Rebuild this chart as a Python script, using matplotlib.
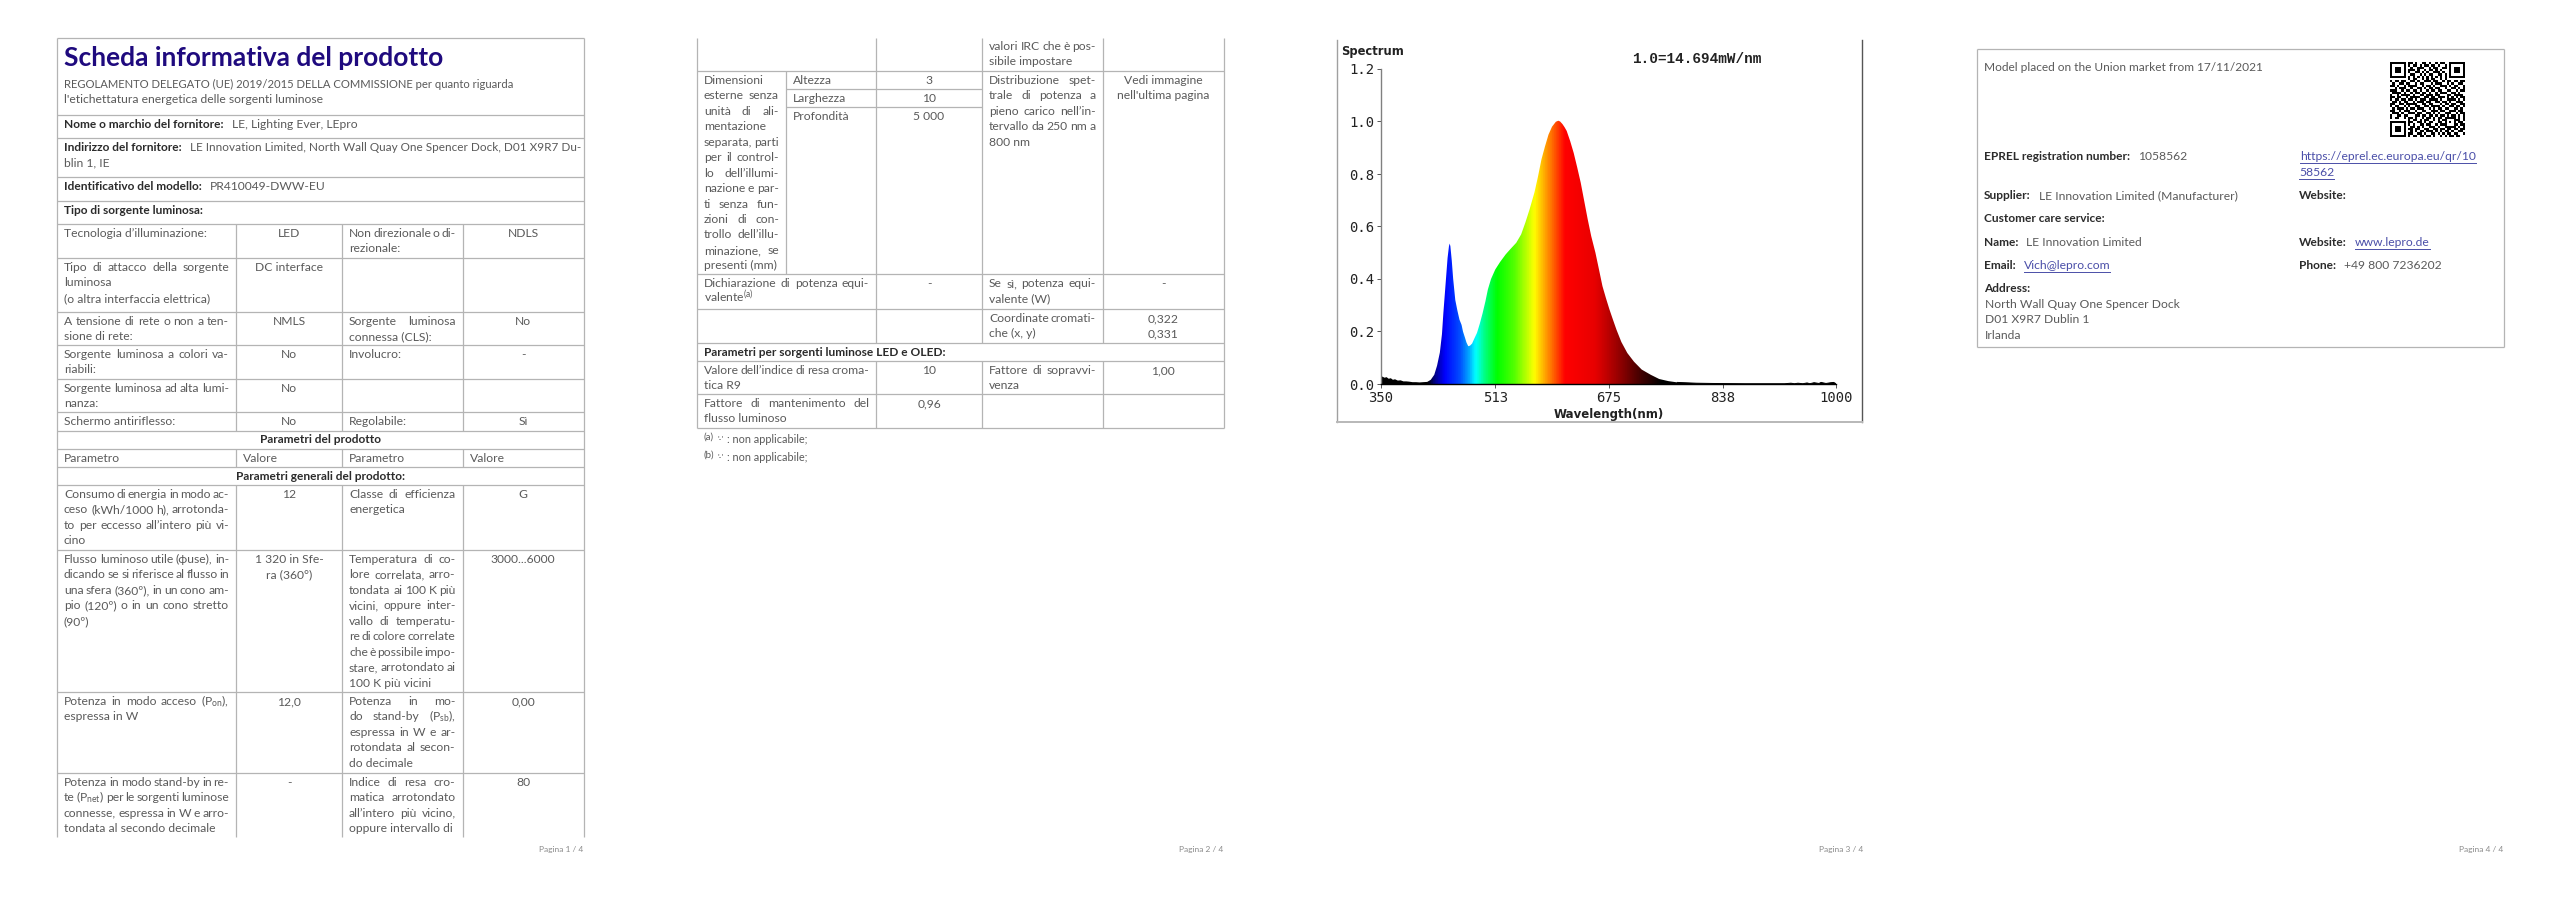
import numpy as np
import matplotlib
matplotlib.use("Agg")
import matplotlib.pyplot as plt
from matplotlib.colors import LinearSegmentedColormap

plt.rcParams['font.family'] = ['Lato', 'DejaVu Sans']
plt.rcParams['mathtext.default'] = 'regular'

# spectrum
wavelength = [350, 352, 355, 358, 361, 364, 367, 370, 374, 378, 382, 386, 390, 395, 400, 405, 410, 416,
              421, 426, 430, 434, 437, 439, 441, 443, 445, 447, 448, 449, 451, 453, 456, 459, 462, 465, 467,
              470, 472, 474.5, 477, 480, 483, 487, 491, 495, 499, 502.5, 507, 513, 520, 528, 535, 543, 550,
              556, 562, 569, 574, 579, 584, 589, 594, 599.5, 603, 605.6, 609, 612, 615, 620, 625, 630, 635,
              640, 645, 650, 656, 661, 666, 671, 676, 681, 686, 693, 701.5, 711, 722, 735, 747, 760, 773,
              800, 824, 870, 926, 935, 940, 945, 952, 958, 962, 968, 975, 978, 985, 992, 996, 1000]
intensity = [0.030, 0.028, 0.024, 0.026, 0.020, 0.022, 0.016, 0.018, 0.013, 0.014, 0.010, 0.010, 0.009, 0.007,
             0.007, 0.006, 0.007, 0.008, 0.016, 0.035, 0.070, 0.120, 0.190, 0.270, 0.340, 0.410, 0.480, 0.525,
             0.535, 0.525, 0.470, 0.400, 0.320, 0.280, 0.245, 0.225, 0.200, 0.175, 0.158, 0.144, 0.146, 0.154,
             0.172, 0.195, 0.230, 0.270, 0.315, 0.360, 0.400, 0.436, 0.465, 0.494, 0.515, 0.538, 0.570, 0.615,
             0.665, 0.730, 0.790, 0.856, 0.905, 0.950, 0.980, 0.999, 1.003, 1.000, 0.990, 0.978, 0.964, 0.925,
             0.880, 0.825, 0.767, 0.697, 0.627, 0.563, 0.500, 0.437, 0.373, 0.327, 0.284, 0.245, 0.207, 0.160,
             0.118, 0.085, 0.055, 0.035, 0.019, 0.011, 0.006, 0.003, 0.002, 0.001, 0.001, 0.003, 0.001, 0.003,
             0.001, 0.004, 0.001, 0.005, 0.002, 0.006, 0.002, 0.005, 0.006, 0.000]
wl_ticks = [350, 513, 675, 838, 1000]
int_ticks = [0.0, 0.2, 0.4, 0.6, 0.8, 1.0, 1.2]

# colour of the light at each wavelength
band_nm = [350, 415, 425, 440, 462, 475, 484, 497, 515, 540, 568, 590, 612, 655, 685, 715, 750, 1000]
band_col = ['#000000', '#000000', '#000080', '#0000ff', '#0050ff', '#00aaff', '#00ffff', '#00ff80', '#00ff00',
            '#55ff00', '#ffff00', '#ff8000', '#ff0000', '#e80000', '#a00000', '#500000', '#000000', '#000000']

qr_rows = [
    "111111101101001101001011001111111", "100000101011010110110100101000001",
    "101110100100111001011001101011101", "101110101110100101101010001011101",
    "101110101001101010011101001011101", "100000100110010101100110101000001",
    "111111101010101010101010101111111", "000000001011001010110010100000000",
    "101101100110100111011001011011011", "010011011001011000101110010100110",
    "110100101111001011010011101011001", "001011100100110101101100100110101",
    "111001011011010010110110011001011", "011110100101101101001011100110100",
    "100101111010011011101100011011110", "110110010111100110110111010101011",
    "101101101101011101111010011110101", "011010110010111011001101101001110",
    "110011011111001101100010110110011", "101100101001100110111101001101101",
    "010111010110111001010110110011010", "110010111001001100111011001110110",
    "011101001110110011010100111001011", "100110110001101101101011010110101",
    "101100101101001011010110111110101", "000000001011010110010101100011101",
    "111111101100110101100110101010110", "100000101010011011001011100011011",
    "101110100110101001110100111110101", "101110101101100110011011011011011",
    "101110100101011011101010110100110", "100000101100110100110101011011001",
    "111111101011011011010010101101100",
]

title = "Scheda informativa del prodotto"
regulation = ["REGOLAMENTO DELEGATO (UE) 2019/2015 DELLA COMMISSIONE per quanto riguarda",
              "l'etichettatura energetica delle sorgenti luminose"]

# 4 columns: label, value, label, value
p1_rows_a = [
    (["Tecnologia d’illuminazione:"], ["LED"], ["Non direzionale o di-", "rezionale:"], ["NDLS"]),
    (["Tipo di attacco della sorgente", "luminosa", "(o altra interfaccia elettrica)"], ["DC interface"], [], []),
    (["A tensione di rete o non a ten-", "sione di rete:"], ["NMLS"], ["Sorgente luminosa", "connessa (CLS):"], ["No"]),
    (["Sorgente luminosa a colori va-", "riabili:"], ["No"], ["Involucro:"], ["-"]),
    (["Sorgente luminosa ad alta lumi-", "nanza:"], ["No"], [], []),
    (["Schermo antiriflesso:"], ["No"], ["Regolabile:"], ["Sì"]),
]
p1_rows_b = [
    (["Consumo di energia in modo ac-", "ceso (kWh/1000 h), arrotonda-", "to per eccesso all’intero più vi-", "cino"],
     ["12"], ["Classe di efficienza", "energetica"], ["G"]),
    (["Flusso luminoso utile (ϕuse), in-", "dicando se si riferisce al flusso in", "una sfera (360º), in un cono am-",
      "pio (120º) o in un cono stretto", "(90º)"],
     ["1 320 in Sfe-", "ra (360°)"],
     ["Temperatura di co-", "lore correlata, arro-", "tondata ai 100 K più", "vicini, oppure inter-", "vallo di temperatu-",
      "re di colore correlate", "che è possibile impo-", "stare, arrotondato ai", "100 K più vicini"],
     ["3000...6000"]),
    (["Potenza in modo acceso (P$_{on}$),", "espressa in W"], ["12,0"],
     ["Potenza in mo-", "do stand-by (P$_{sb}$),", "espressa in W e ar-", "rotondata al secon-", "do decimale"], ["0,00"]),
    (["Potenza in modo stand-by in re-", "te (P$_{net}$) per le sorgenti luminose", "connesse, espressa in W e arro-",
      "tondata al secondo decimale"], ["-"],
     ["Indice di resa cro-", "matica arrotondato", "all’intero più vicino,", "oppure intervallo di"], ["80"]),
]
dim_label = ["Dimensioni", "esterne senza", "unità di ali-", "mentazione", "separata, parti", "per il control-",
             "lo dell’illumi-", "nazione e par-", "ti senza fun-", "zioni di con-", "trollo dell’illu-",
             "minazione, se", "presenti (mm)"]
dim_names = ["Altezza", "Larghezza", "Profondità"]
dim_values = ["3", "10", "5 000"]
spd_label = ["Distribuzione spet-", "trale di potenza a", "pieno carico nell’in-", "tervallo da 250 nm a", "800 nm"]
spd_value = ["Vedi immagine", "nell'ultima pagina"]
irc_tail = ["valori IRC che è pos-", "sibile impostare"]
p2_rows = [
    (["Dichiarazione di potenza equi-", "valente$^{(a)}$"], ["-"], ["Se sì, potenza equi-", "valente (W)"], ["-"]),
    ([], [], ["Coordinate cromati-", "che (x, y)"], ["0,322", "0,331"]),
]
p2_rows_led = [
    (["Valore dell’indice di resa croma-", "tica R9"], ["10"], ["Fattore di sopravvi-", "venza"], ["1,00"]),
    (["Fattore di mantenimento del", "flusso luminoso"], ["0,96"], [], []),
]

LINE = '#b4b4b4'
TEXT = '#5a5a5a'
DARK = '#2b2b2b'
LINK = '#4a4ea8'
FS = 8.75
FS_BOLD = 8.6
LEADING = 15.45

fig = plt.figure(figsize=(25.6, 9.05), dpi=100, facecolor='white')
page = fig.add_axes([0, 0, 1, 1])
page.set_xlim(0, 2560)
page.set_ylim(905, 0)
page.axis('off')
renderer = fig.canvas.get_renderer()


def put(x, y, s, bold=False, color=None, size=None, ha='left'):
    if color is None:
        color = DARK if bold else TEXT
    if size is None:
        size = FS_BOLD if bold else FS
    return page.text(x, y, s, fontsize=size, fontweight='bold' if bold else 'normal',
                     color=color, ha=ha, va='baseline')


def width_of(s, bold=False, size=None):
    t = put(0, 0, s, bold=bold, size=size)
    w = t.get_window_extent(renderer).width
    t.remove()
    return w


def hline(x0, x1, y):
    page.plot([x0, x1], [y, y], color=LINE, lw=0.9, solid_capstyle='butt')


def vline(x, y0, y1):
    page.plot([x, x], [y0, y1], color=LINE, lw=0.9, solid_capstyle='butt')


def cell_lines(x0, x1, top, lines, center=False):
    # word spacing is stretched on full lines, like the justified text in the sheet
    y = top + 13
    for n, line in enumerate(lines):
        if center:
            put((x0 + x1) / 2, y, line, ha='center')
        else:
            room = x1 - x0 - 14
            words = line.split(' ')
            sizes = [width_of(w) for w in words]
            full = width_of(line)
            if n < len(lines) - 1 and len(words) > 1 and full > 0.7 * room:
                gap = (room - sum(sizes)) / (len(words) - 1)
                x = x0 + 7
                for w, size in zip(words, sizes):
                    put(x, y, w)
                    x += size + gap
            else:
                put(x0 + 7, y, line)
        y += LEADING


def table_row(cols, top, bottom, cells, close=True):
    for i, lines in enumerate(cells):
        cell_lines(cols[i], cols[i + 1], top, lines, center=(i % 2 == 1))
    for x in cols[1:-1]:
        vline(x, top, bottom)
    if close:
        hline(cols[0], cols[-1], bottom)


def label_value(x, y, label, value, link=False, size=None):
    put(x, y, label, bold=True)
    vx = x + width_of(label, bold=True) + 8
    if link:
        put(vx, y, value, color=LINK)
        page.plot([vx, vx + width_of(value)], [y + 3, y + 3], color=LINK, lw=0.7)
    else:
        put(vx, y, value, size=size)


# page 1
c1 = [57, 236, 342, 462.5, 583.5]
vline(c1[0], 38, 837)
vline(c1[-1], 38, 837)
hline(c1[0], c1[-1], 38)
put(64, 66, title, bold=True, color='#1f0a7e', size=19)
put(64, 88, regulation[0], size=8.15)
put(64, 88 + LEADING, regulation[1])
hline(c1[0], c1[-1], 115)
label_value(64, 128, "Nome o marchio del fornitore:", "LE, Lighting Ever, LEpro")
hline(c1[0], c1[-1], 138)
label_value(64, 151, "Indirizzo del fornitore:", "LE Innovation Limited, North Wall Quay One Spencer Dock, D01 X9R7 Du-",
            size=8.5)
put(64, 151 + LEADING, "blin 1, IE")
hline(c1[0], c1[-1], 177)
label_value(64, 190, "Identificativo del modello:", "PR410049-DWW-EU")
hline(c1[0], c1[-1], 201)
put(64, 214, "Tipo di sorgente luminosa:", bold=True)
hline(c1[0], c1[-1], 224)

y1a = [224, 258, 312, 345, 379, 412, 431]
for row, top, bottom in zip(p1_rows_a, y1a[:-1], y1a[1:]):
    table_row(c1, top, bottom, row)
put((c1[0] + c1[-1]) / 2, 443, "Parametri del prodotto", bold=True, ha='center')
hline(c1[0], c1[-1], 449)
for x, s in zip(c1[:-1], ["Parametro", "Valore", "Parametro", "Valore"]):
    put(x + 7, 462, s)
for x in c1[1:-1]:
    vline(x, 449, 467)
hline(c1[0], c1[-1], 467)
put((c1[0] + c1[-1]) / 2, 480, "Parametri generali del prodotto:", bold=True, ha='center')
hline(c1[0], c1[-1], 485)
y1b = [485, 550, 692, 773, 837]
for i, (row, top, bottom) in enumerate(zip(p1_rows_b, y1b[:-1], y1b[1:])):
    # the last row runs over to the next page, so no closing rule there
    table_row(c1, top, bottom, row, close=i < 3)

# page 2
c2 = [697, 876, 982, 1102.5, 1223.5]
vline(c2[0], 38, 428)
vline(c2[-1], 38, 428)
for x in c2[1:-1]:
    vline(x, 38, 71)
cell_lines(c2[2], c2[3], 37, irc_tail)
hline(c2[0], c2[-1], 71)
# dimensions block
inner = 786
vline(inner, 71, 274)
for x in c2[1:-1]:
    vline(x, 71, 274)
cell_lines(c2[0], inner, 71, dim_label)
for name, val, top in zip(dim_names, dim_values, [71, 89, 107]):
    cell_lines(inner, c2[1], top, [name])
    cell_lines(c2[1], c2[2], top, [val], center=True)
    if top < 107:
        hline(inner, c2[2], top + 18)
cell_lines(c2[2], c2[3], 71, spd_label)
cell_lines(c2[3], c2[4], 71, spd_value, center=True)
hline(c2[0], c2[-1], 274)
for row, top, bottom in zip(p2_rows, [274, 309], [309, 343]):
    table_row(c2, top, bottom, row)
put(704, 356, "Parametri per sorgenti luminose LED e OLED:", bold=True)
hline(c2[0], c2[-1], 361)
for row, top, bottom in zip(p2_rows_led, [361, 394], [394, 428]):
    table_row(c2, top, bottom, row)
for y, mark in zip([440, 458], ["(a)", "(b)"]):
    put(704, y, mark, size=7)
    put(717, y + 1, "'-'", size=5.5)
    put(727, y + 3, ": non applicabile;", size=7.8)

# page 3, the spectrum
page.plot([1337, 1337], [40, 422], color='#a0a0a0', lw=1.0)
page.plot([1862, 1862], [40, 422], color='#555555', lw=1.0)
page.plot([1337, 1862], [422, 422], color='#b8b8b8', lw=1.4)
put(1341, 55, "Spectrum", color='#222222', size=8.3, bold=True).set_family('DejaVu Sans')
put(1632, 63, "1.0=14.694mW/nm", color='#222222', size=10.4, bold=True).set_family('Liberation Mono')

ax = fig.add_axes([1381 / 2560, 1 - 384 / 905, (1836.5 - 1381) / 2560, (384 - 69) / 905])
wl = np.array(wavelength)
val = np.array(intensity)
stops = [(nm - band_nm[0]) / (band_nm[-1] - band_nm[0]) for nm in band_nm]
cmap = LinearSegmentedColormap.from_list('light', list(zip(stops, band_col)))
area = ax.fill_between(wl, val, color='none', lw=0)
im = ax.imshow(np.linspace(0, 1, 1300)[None, :], extent=[350, 1000, 0, 1.2], cmap=cmap,
               aspect='auto', origin='lower', vmin=0, vmax=1)
im.set_clip_path(area.get_paths()[0], transform=ax.transData)
ax.plot(wl[wl > 760], val[wl > 760], color='black', lw=0.7)
ax.set_xlim(350, 1000)
ax.set_ylim(0, 1.2)
ax.patch.set_alpha(0)
ax.spines['top'].set_visible(False)
ax.spines['right'].set_visible(False)
ax.spines['left'].set_color('#808080')
ax.spines['left'].set_linewidth(1.0)
ax.spines['bottom'].set_linewidth(1.0)
ax.set_xticks(wl_ticks)
ax.set_yticks(int_ticks)
ax.set_yticklabels([f"{v:.1f}" for v in int_ticks])
ax.tick_params(axis='both', length=3, width=0.7, pad=2, labelsize=10, labelcolor='#222222',
               labelfontfamily='DejaVu Sans Mono', color='#555555')
ax.set_xlabel("Wavelength(nm)", fontsize=8.5, fontweight='bold', color='#222222', family='DejaVu Sans', labelpad=2)

# page 4
c4 = [1977, 2503.5]
hline(c4[0], c4[1], 49)
hline(c4[0], c4[1], 347)
vline(c4[0], 49, 347)
vline(c4[1], 49, 347)
put(1984, 71, "Model placed on the Union market from 17/11/2021", size=8.6)
qr = np.array([[int(ch) for ch in row] for row in qr_rows])
page.imshow(qr, extent=[2390, 2465, 137, 62], cmap='gray_r', interpolation='nearest', aspect='auto', vmin=0, vmax=1)
page.set_xlim(0, 2560)
page.set_ylim(905, 0)
label_value(1984, 160, "EPREL registration number:", "1058562")
put(2300, 160, "https://eprel.ec.europa.eu/qr/10", color=LINK)
page.plot([2300, 2300 + width_of("https://eprel.ec.europa.eu/qr/10")], [163, 163], color=LINK, lw=0.7)
put(2299, 176, "58562", color=LINK)
page.plot([2299, 2299 + width_of("58562")], [179, 179], color=LINK, lw=0.7)
label_value(1984, 199, "Supplier:", "LE Innovation Limited (Manufacturer)")
put(2299, 199, "Website:", bold=True)
put(1984, 222, "Customer care service:", bold=True)
label_value(1984, 246, "Name:", "LE Innovation Limited")
label_value(2299, 246, "Website:", "www.lepro.de", link=True)
label_value(1984, 269, "Email:", "Vich@lepro.com", link=True)
label_value(2299, 269, "Phone:", "+49 800 7236202")
put(1984, 292, "Address:", bold=True)
for i, s in enumerate(["North Wall Quay One Spencer Dock", "D01 X9R7 Dublin 1", "Irlanda"]):
    put(1985, 308 + i * LEADING, s)

for x, n in zip([583, 1223, 1863, 2503], [1, 2, 3, 4]):
    put(x, 852, f"Pagina {n} / 4", color='#8a8a8a', size=6, ha='right')

fig.savefig('out.png', dpi=100, facecolor='white')
